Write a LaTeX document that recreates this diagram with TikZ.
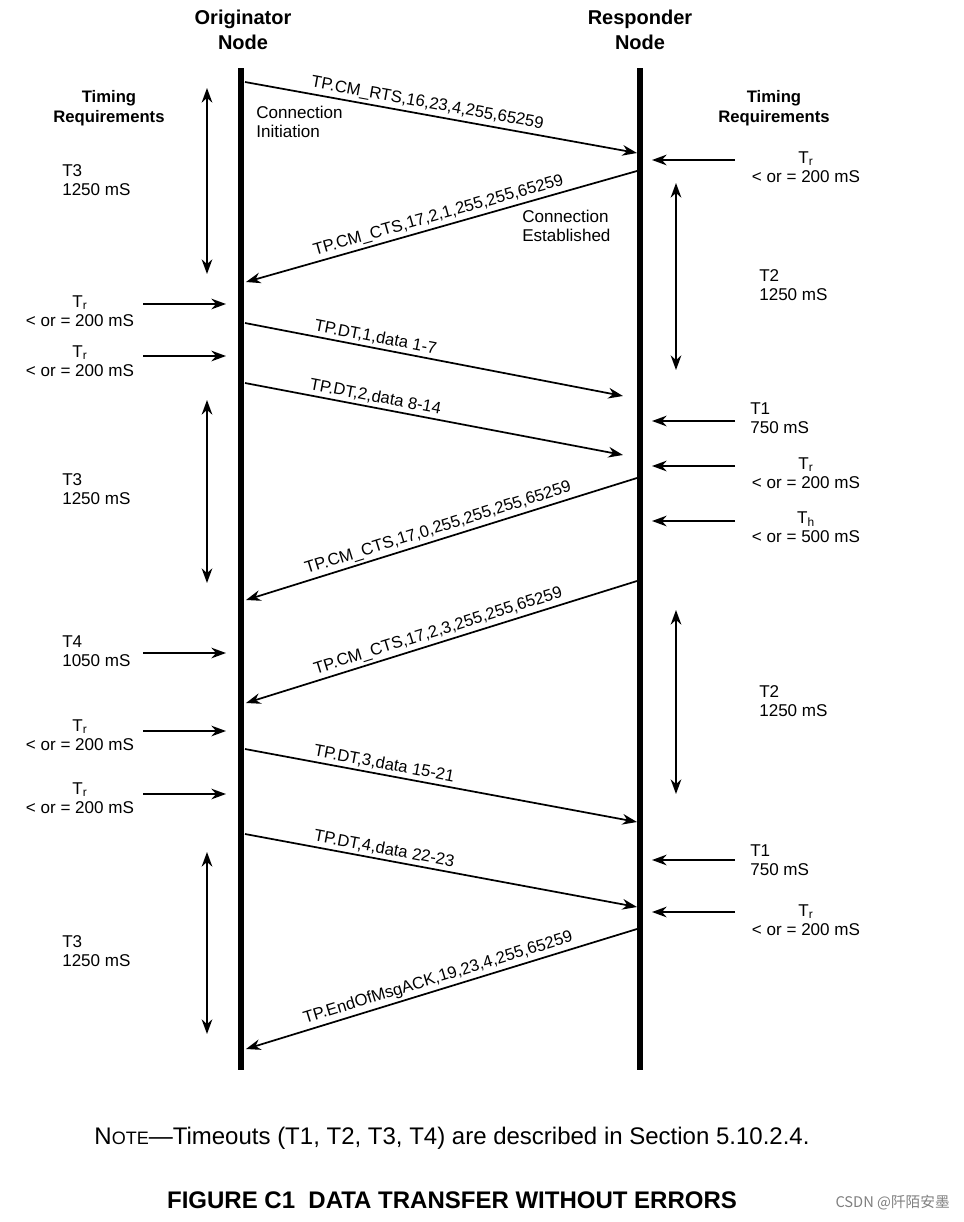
\documentclass[tikz,border=0pt]{standalone}
\usepackage{fontspec}
\setmainfont{Liberation Sans}
\newfontfamily\cjk{Noto Sans CJK SC}
\usetikzlibrary{arrows.meta}
\begin{document}
\begin{tikzpicture}[x=0.75pt,y=-0.75pt,
  life/.style={line width=4pt},
  msg/.style={line width=1.3pt,-{Stealth[length=11pt,width=8pt]}},
  rmsg/.style={line width=1.3pt,{Stealth[length=11pt,width=8pt]}-},
  dbl/.style={line width=1.3pt,{Stealth[length=11pt,width=8pt]}-{Stealth[length=11pt,width=8pt]}},
  lbl/.style={font=\fontsize{12.5}{14}\selectfont,sloped,above,inner sep=2pt},
  txt/.style={font=\fontsize{12.8}{14}\selectfont,align=center,inner sep=0pt},
  ltxt/.style={font=\fontsize{12.8}{14}\selectfont,align=left,anchor=west,inner sep=0pt},
  hd/.style={font=\bfseries\fontsize{15}{19}\selectfont,align=center,inner sep=0pt},
  hd2/.style={font=\bfseries\fontsize{12.5}{15}\selectfont,align=center,inner sep=0pt}]
\useasboundingbox (0,0) rectangle (964,1222);
\fill[white] (0,0) rectangle (964,1222);
% lifelines
\coordinate (Lt) at (241,68); \coordinate (Lb) at (241,1070);
\coordinate (Rt) at (640,68); \coordinate (Rb) at (640,1070);
\draw[life] (Lt) -- (Lb);
\draw[life] (Rt) -- (Rb);
\node[hd] (ho) at (243,30) {Originator\\Node};
\node[hd] (hr) at (640,30) {Responder\\Node};
\node[hd2] (tl) at (109,108) {Timing\\Requirements};
\node[hd2] (tr) at (774,108) {Timing\\Requirements};
% messages
\coordinate (m1a) at (245,82); \coordinate (m1b) at (637,153);
\draw[msg] (m1a) -- (m1b) node[lbl,pos=0.46] {TP.CM\_RTS,16,23,4,255,65259};
\coordinate (m2a) at (637,171); \coordinate (m2b) at (246,282);
\draw[rmsg] (m2b) -- (m2a) node[lbl,midway] {TP.CM\_CTS,17,2,1,255,255,65259};
\coordinate (m3a) at (245,323); \coordinate (m3b) at (623,396);
\draw[msg] (m3a) -- (m3b) node[lbl,pos=0.34] {TP.DT,1,data 1-7};
\coordinate (m4a) at (245,383); \coordinate (m4b) at (623,455);
\draw[msg] (m4a) -- (m4b) node[lbl,pos=0.34] {TP.DT,2,data 8-14};
\coordinate (m5a) at (637,478); \coordinate (m5b) at (246,600);
\draw[rmsg] (m5b) -- (m5a) node[lbl,midway] {TP.CM\_CTS,17,0,255,255,255,65259};
\coordinate (m6a) at (637,581); \coordinate (m6b) at (246,703);
\draw[rmsg] (m6b) -- (m6a) node[lbl,midway] {TP.CM\_CTS,17,2,3,255,255,65259};
\coordinate (m7a) at (245,749); \coordinate (m7b) at (637,822);
\draw[msg] (m7a) -- (m7b) node[lbl,pos=0.35] {TP.DT,3,data 15-21};
\coordinate (m8a) at (245,834); \coordinate (m8b) at (637,907);
\draw[msg] (m8a) -- (m8b) node[lbl,pos=0.35] {TP.DT,4,data 22-23};
\coordinate (m9a) at (637,929); \coordinate (m9b) at (246,1049);
\draw[rmsg] (m9b) -- (m9a) node[lbl,midway] {TP.EndOfMsgACK,19,23,4,255,65259};
\node[ltxt] (ci) at (256,122) {Connection\\Initiation};
\node[ltxt] (ce) at (522,226) {Connection\\Established};
% double arrows
\coordinate (d1a) at (207,88); \coordinate (d1b) at (207,274);
\draw[dbl] (d1a) -- (d1b);
\coordinate (d2a) at (207,400); \coordinate (d2b) at (207,583);
\draw[dbl] (d2a) -- (d2b);
\coordinate (d3a) at (207,852); \coordinate (d3b) at (207,1034);
\draw[dbl] (d3a) -- (d3b);
\coordinate (d4a) at (676,183); \coordinate (d4b) at (676,370);
\draw[dbl] (d4a) -- (d4b);
\coordinate (d5a) at (676,610); \coordinate (d5b) at (676,794);
\draw[dbl] (d5a) -- (d5b);
% left short arrows
\foreach \y/\n in {304/a,356/b,653/c,731/d,794/e}{
  \coordinate (ls\n) at (143,\y); \coordinate (le\n) at (226,\y);
  \draw[msg] (ls\n) -- (le\n);}
% right short arrows
\foreach \y/\n in {160/a,421/b,466/c,521/d,860/e,912/f}{
  \coordinate (rs\n) at (735,\y); \coordinate (re\n) at (652,\y);
  \draw[msg] (rs\n) -- (re\n);}
% left labels
\node[ltxt] (t3a) at (62,180) {T3\\1250 mS};
\node[ltxt] (t3b) at (62,489) {T3\\1250 mS};
\node[ltxt] (t4) at (62,651) {T4\\1050 mS};
\node[ltxt] (t3c) at (62,951) {T3\\1250 mS};
\node[txt] (lr1) at (80,311) {T\textsubscript{r}\\< or = 200 mS};
\node[txt] (lr2) at (80,361) {T\textsubscript{r}\\< or = 200 mS};
\node[txt] (lr3) at (80,735) {T\textsubscript{r}\\< or = 200 mS};
\node[txt] (lr4) at (80,798) {T\textsubscript{r}\\< or = 200 mS};
% right labels
\node[txt] (rr1) at (806,167) {T\textsubscript{r}\\< or = 200 mS};
\node[ltxt] (t2a) at (759,285) {T2\\1250 mS};
\node[ltxt] (t1a) at (750,418) {T1\\750 mS};
\node[txt] (rr2) at (806,473) {T\textsubscript{r}\\< or = 200 mS};
\node[txt] (rh) at (806,527) {T\textsubscript{h}\\< or = 500 mS};
\node[ltxt] (t2b) at (759,701) {T2\\1250 mS};
\node[ltxt] (t1b) at (750,860) {T1\\750 mS};
\node[txt] (rr3) at (806,920) {T\textsubscript{r}\\< or = 200 mS};
% notes
\node[inner sep=0pt,font=\fontsize{18}{21}\selectfont] (note) at (452,1138) {N{\fontsize{13.5}{16}\selectfont OTE}---Timeouts (T1, T2, T3, T4) are described in Section 5.10.2.4.};
\node[inner sep=0pt,font=\bfseries\fontsize{18}{21}\selectfont] (fig) at (452,1200) {FIGURE C1\ \ DATA TRANSFER WITHOUT ERRORS};
\node[inner sep=0pt,anchor=east,text=gray,font=\cjk\fontsize{11}{13}\selectfont] (wm) at (950,1203) {CSDN @阡陌安墨};
\end{tikzpicture}
\end{document}
